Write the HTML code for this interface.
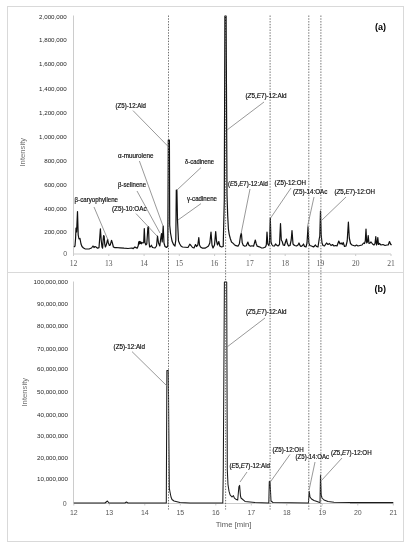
<!DOCTYPE html><html><head><meta charset="utf-8"><style>html,body{margin:0;padding:0;background:#fff;}svg{display:block;}</style></head><body>
<svg width="410" height="550" viewBox="0 0 410 550" font-family='"Liberation Sans", Arial, sans-serif'>
<rect x="0" y="0" width="410" height="550" fill="#fff"/>
<rect x="7.5" y="6.5" width="396" height="535" fill="none" stroke="#d9d9d9" stroke-width="1"/>
<line x1="7" y1="272.5" x2="404" y2="272.5" stroke="#d9d9d9" stroke-width="1"/>
<g stroke="#cccccc" stroke-width="1" fill="none">
<line x1="73.5" y1="15.5" x2="73.5" y2="254"/>
<line x1="73.5" y1="254" x2="391" y2="254"/>
<line x1="73.5" y1="281.5" x2="73.5" y2="503.5"/>
<line x1="73.5" y1="503.5" x2="393.3" y2="503.5"/>
<line x1="73.5" y1="254" x2="73.5" y2="256"/>
<line x1="73.8" y1="503.5" x2="73.8" y2="505.5"/>
<line x1="108.8" y1="254" x2="108.8" y2="256"/>
<line x1="109.3" y1="503.5" x2="109.3" y2="505.5"/>
<line x1="144.1" y1="254" x2="144.1" y2="256"/>
<line x1="144.8" y1="503.5" x2="144.8" y2="505.5"/>
<line x1="179.3" y1="254" x2="179.3" y2="256"/>
<line x1="180.3" y1="503.5" x2="180.3" y2="505.5"/>
<line x1="214.6" y1="254" x2="214.6" y2="256"/>
<line x1="215.8" y1="503.5" x2="215.8" y2="505.5"/>
<line x1="249.9" y1="254" x2="249.9" y2="256"/>
<line x1="251.3" y1="503.5" x2="251.3" y2="505.5"/>
<line x1="285.2" y1="254" x2="285.2" y2="256"/>
<line x1="286.8" y1="503.5" x2="286.8" y2="505.5"/>
<line x1="320.4" y1="254" x2="320.4" y2="256"/>
<line x1="322.3" y1="503.5" x2="322.3" y2="505.5"/>
<line x1="355.7" y1="254" x2="355.7" y2="256"/>
<line x1="357.8" y1="503.5" x2="357.8" y2="505.5"/>
<line x1="391.0" y1="254" x2="391.0" y2="256"/>
<line x1="393.3" y1="503.5" x2="393.3" y2="505.5"/>
</g>
<g font-size="6.2" fill="#1f1f1f" text-anchor="end">
<text x="66.6" y="18.6">2,000,000</text>
<text x="66.6" y="42.3">1,800,000</text>
<text x="66.6" y="66.3">1,600,000</text>
<text x="66.6" y="90.9">1,400,000</text>
<text x="66.6" y="115.1">1,200,000</text>
<text x="66.6" y="139.3">1,000,000</text>
<text x="66.6" y="163.1">800,000</text>
<text x="66.6" y="186.9">600,000</text>
<text x="66.6" y="210.6">400,000</text>
<text x="66.6" y="233.9">200,000</text>
<text x="68" y="284.4">100,000,000</text>
<text x="68" y="306.1">90,000,000</text>
<text x="68" y="327.8">80,000,000</text>
<text x="68" y="350.5">70,000,000</text>
<text x="68" y="371.2">60,000,000</text>
<text x="68" y="394.1">50,000,000</text>
<text x="68" y="416.6">40,000,000</text>
<text x="68" y="438.1">30,000,000</text>
<text x="68" y="460.1">20,000,000</text>
<text x="68" y="481.4">10,000,000</text>
</g>
<g font-size="7" fill="#595959" text-anchor="middle">
<text x="73.5" y="265.9" font-family="Liberation Serif, serif" font-size="7.6">12</text>
<text x="73.8" y="515.0">12</text>
<text x="108.8" y="265.9" font-family="Liberation Serif, serif" font-size="7.6">13</text>
<text x="109.3" y="515.0">13</text>
<text x="144.1" y="265.9" font-family="Liberation Serif, serif" font-size="7.6">14</text>
<text x="144.8" y="515.0">14</text>
<text x="179.3" y="265.9" font-family="Liberation Serif, serif" font-size="7.6">15</text>
<text x="180.3" y="515.0">15</text>
<text x="214.6" y="265.9" font-family="Liberation Serif, serif" font-size="7.6">16</text>
<text x="215.8" y="515.0">16</text>
<text x="249.9" y="265.9" font-family="Liberation Serif, serif" font-size="7.6">17</text>
<text x="251.3" y="515.0">17</text>
<text x="285.2" y="265.9" font-family="Liberation Serif, serif" font-size="7.6">18</text>
<text x="286.8" y="515.0">18</text>
<text x="320.4" y="265.9" font-family="Liberation Serif, serif" font-size="7.6">19</text>
<text x="322.3" y="515.0">19</text>
<text x="355.7" y="265.9" font-family="Liberation Serif, serif" font-size="7.6">20</text>
<text x="357.8" y="515.0">20</text>
<text x="391.0" y="265.9" font-family="Liberation Serif, serif" font-size="7.6">21</text>
<text x="393.3" y="515.0">21</text>
</g>
<text x="65.2" y="256.1" font-size="7" fill="#595959" text-anchor="middle">0</text>
<text x="64.8" y="506.0" font-size="7" fill="#595959" text-anchor="middle">0</text>
<text x="233.5" y="527.3" font-size="7.7" fill="#595959" text-anchor="middle">Time [min]</text>
<text transform="translate(25.2,152.2) rotate(-90)" font-size="7.7" fill="#737373" text-anchor="middle">Intensity</text>
<text transform="translate(26.7,392.2) rotate(-90)" font-size="7.7" fill="#737373" text-anchor="middle">Intensity</text>
<text x="375" y="29.6" font-size="9" font-weight="bold" fill="#000">(a)</text>
<text x="374.5" y="292.2" font-size="9" font-weight="bold" fill="#000">(b)</text>
<path d="M74.0,247.0 L75.0,246.0 L75.6,238.0 L76.0,228.0 L76.6,232.0 L77.5,211.5 L78.2,235.0 L79.0,239.0 L80.0,238.5 L81.0,244.0 L82.0,246.5 L83.5,248.0 L85.0,248.8 L87.0,249.0 L89.5,248.8 L91.5,248.0 L93.0,246.0 L94.0,247.5 L95.0,246.5 L96.0,247.0 L97.6,248.2 L99.0,247.6 L99.7,238.3 L100.4,228.8 L101.2,240.0 L102.0,247.0 L102.6,248.2 L103.2,239.4 L103.6,235.6 L104.2,236.2 L104.7,243.8 L105.4,247.0 L106.1,245.4 L106.6,243.8 L107.6,239.4 L108.3,242.7 L109.4,245.4 L110.3,244.9 L111.5,240.3 L112.3,242.7 L113.4,247.0 L114.8,247.6 L116.0,247.5 L120.0,247.8 L124.0,248.2 L128.0,248.5 L132.0,248.0 L133.2,248.6 L134.8,247.0 L136.0,247.6 L137.2,248.2 L138.2,245.8 L138.7,242.0 L139.1,241.5 L139.5,244.0 L139.9,241.5 L140.3,243.5 L140.7,241.8 L141.3,243.9 L141.9,242.4 L142.8,243.0 L143.7,242.7 L144.3,228.5 L145.0,242.7 L145.9,244.9 L146.8,243.9 L147.9,227.3 L148.5,226.6 L149.0,241.5 L149.6,247.0 L150.5,246.7 L151.4,245.2 L151.5,245.5 L152.5,247.5 L155.0,248.0 L156.5,246.0 L157.5,236.0 L158.5,243.0 L159.8,246.0 L160.8,238.0 L161.5,233.5 L162.2,242.0 L163.2,226.0 L164.0,243.0 L165.0,246.5 L166.5,247.5 L167.8,246.0 L168.3,140.0 L169.4,140.0 L169.7,225.0 L170.5,233.0 L172.0,241.0 L173.5,244.5 L175.0,246.0 L175.8,240.0 L176.3,190.0 L176.9,190.5 L177.5,220.0 L178.5,241.0 L179.8,244.0 L181.0,246.0 L182.5,247.0 L188.0,247.5 L189.8,244.2 L191.0,245.5 L192.5,247.5 L194.0,248.0 L195.5,244.5 L196.5,246.5 L197.8,245.0 L198.8,237.5 L199.5,245.0 L200.5,247.0 L202.5,248.2 L205.0,248.2 L207.0,247.0 L208.5,246.0 L209.8,243.0 L211.0,232.0 L212.0,245.0 L213.0,248.0 L214.5,245.0 L215.7,231.5 L216.5,241.0 L217.5,245.0 L218.8,241.5 L219.8,246.0 L221.5,247.0 L223.2,246.5 L224.3,200.0 L224.9,16.0 L226.1,16.0 L227.0,195.0 L227.7,215.7 L228.4,229.0 L229.2,234.3 L230.3,238.5 L231.5,242.0 L232.9,243.1 L234.4,244.7 L236.0,245.7 L238.0,246.2 L239.4,243.7 L240.6,235.4 L241.4,233.3 L242.2,242.6 L243.2,245.2 L244.8,246.2 L246.3,245.7 L247.9,242.1 L248.9,245.2 L250.5,246.2 L252.0,245.7 L253.6,246.2 L255.3,240.0 L256.2,243.7 L257.2,246.2 L259.3,246.8 L261.3,247.8 L263.0,248.0 L265.5,247.0 L266.3,245.0 L267.0,232.0 L267.8,244.0 L268.8,245.5 L269.5,243.0 L270.3,218.0 L271.0,242.0 L271.8,244.5 L273.0,246.0 L274.5,246.0 L275.5,244.0 L276.5,245.0 L278.0,246.0 L279.5,244.5 L280.5,223.5 L281.3,240.0 L282.2,241.5 L283.2,245.0 L284.5,245.5 L285.5,242.0 L286.5,239.0 L287.2,243.0 L288.5,246.0 L290.0,245.5 L291.2,240.0 L292.0,230.5 L293.0,244.0 L294.5,245.5 L296.5,246.0 L298.0,245.0 L299.0,243.0 L300.0,245.5 L301.0,246.5 L302.5,245.5 L303.5,244.0 L304.5,246.5 L306.0,247.0 L307.0,243.0 L308.0,227.0 L308.8,243.0 L309.8,245.5 L311.5,246.0 L313.5,247.0 L315.5,245.0 L316.5,246.5 L318.0,247.0 L319.2,239.0 L319.8,236.0 L320.5,211.0 L321.2,235.0 L322.0,243.0 L323.0,245.5 L324.5,246.0 L326.5,243.0 L328.0,244.5 L329.5,243.5 L331.0,245.5 L332.5,244.5 L334.0,246.0 L335.5,245.5 L337.0,246.0 L338.8,241.0 L340.0,244.0 L341.2,243.0 L342.2,244.5 L343.2,242.5 L344.5,246.5 L346.0,246.0 L347.2,241.0 L348.4,222.0 L349.3,238.0 L350.5,243.5 L352.0,245.0 L353.5,245.5 L355.0,246.0 L356.5,245.0 L358.0,246.0 L360.0,245.5 L362.0,245.0 L363.5,243.0 L364.5,243.5 L365.3,241.0 L366.0,229.0 L366.7,243.0 L367.5,242.0 L368.2,235.5 L369.0,243.5 L370.0,243.0 L371.0,242.0 L372.5,244.0 L374.0,245.0 L375.0,243.5 L375.8,236.5 L376.5,245.0 L377.2,243.0 L377.8,237.5 L378.5,244.5 L379.5,243.5 L381.0,245.0 L383.0,244.5 L385.0,245.5 L387.0,245.0 L388.2,245.0 L389.5,241.5 L390.5,244.0 L391.5,245.2" fill="none" stroke="#111" stroke-width="1.2" stroke-linejoin="round"/>
<path d="M73.8,503.0 L105.0,503.0 L107.4,501.0 L109.0,503.0 L125.0,503.0 L126.4,502.0 L128.0,503.0 L166.3,503.0 L166.9,370.4 L168.3,370.4 L169.3,488.0 L170.0,492.0 L171.0,497.0 L172.0,499.5 L174.0,501.0 L178.0,502.0 L180.0,502.5 L190.0,503.0 L222.8,503.0 L223.3,470.0 L224.4,282.0 L226.7,282.0 L227.3,470.0 L228.0,484.6 L229.0,491.2 L230.1,494.9 L232.0,497.0 L233.4,495.6 L234.5,498.2 L236.3,499.6 L237.7,500.0 L238.9,486.8 L239.6,485.4 L240.5,496.0 L241.0,498.0 L245.0,501.4 L255.0,502.6 L268.8,503.0 L269.3,481.6 L270.0,481.6 L271.0,501.0 L273.0,502.5 L308.4,503.0 L309.2,491.2 L310.0,497.0 L311.5,499.0 L314.0,500.5 L317.0,501.5 L319.0,502.2 L320.0,502.4 L320.5,475.0 L321.2,495.0 L322.0,498.0 L324.0,500.0 L328.0,501.5 L334.0,502.2 L350.0,502.6 L393.3,502.6" fill="none" stroke="#1a1a1a" stroke-width="1.05" stroke-linejoin="round"/>
<g stroke="#6e6e6e" stroke-width="1" stroke-dasharray="1.4 1.4" fill="none">
<line x1="168.5" y1="15.5" x2="168.5" y2="509.5"/>
<line x1="225.6" y1="15.5" x2="225.6" y2="509.5"/>
<line x1="270.1" y1="15.5" x2="270.1" y2="509.5"/>
<line x1="308.8" y1="15.5" x2="308.8" y2="509.5"/>
<line x1="320.9" y1="15.5" x2="320.9" y2="509.5"/>
</g>
<g stroke="#7f7f7f" stroke-width="0.8" fill="none">
<line x1="133" y1="110.6" x2="168.2" y2="146.5"/>
<line x1="139.4" y1="161" x2="163" y2="226"/>
<line x1="137" y1="191" x2="160" y2="233"/>
<line x1="136" y1="213.6" x2="157" y2="236"/>
<line x1="94" y1="207" x2="108" y2="240"/>
<line x1="201" y1="167.6" x2="177" y2="190"/>
<line x1="201" y1="203.6" x2="178" y2="220"/>
<line x1="264" y1="102" x2="227" y2="130"/>
<line x1="250" y1="189" x2="241" y2="234"/>
<line x1="291" y1="188" x2="270.6" y2="218"/>
<line x1="314" y1="197" x2="307.4" y2="227"/>
<line x1="346" y1="197" x2="322" y2="220"/>
<line x1="132" y1="351.6" x2="167" y2="386"/>
<line x1="265" y1="318" x2="227" y2="347"/>
<line x1="247" y1="472" x2="240" y2="482"/>
<line x1="290" y1="454.4" x2="270" y2="482.4"/>
<line x1="315" y1="462" x2="309.2" y2="489.5"/>
<line x1="342" y1="458" x2="321.5" y2="480.5"/>
</g>
<g font-size="6.4" fill="#111" stroke="#111" stroke-width="0.18">
<text x="115.6" y="108.3" textLength="30.4" lengthAdjust="spacingAndGlyphs">(Z5)-12:Ald</text>
<text x="118" y="158.3" textLength="35.4" lengthAdjust="spacingAndGlyphs">α-muurolene</text>
<text x="118" y="187.3" textLength="28.0" lengthAdjust="spacingAndGlyphs">β-selinene</text>
<text x="112" y="210.7" textLength="34.6" lengthAdjust="spacingAndGlyphs">(Z5)-10:OAc</text>
<text x="74.6" y="202.3" textLength="43.4" lengthAdjust="spacingAndGlyphs">β-caryophyllene</text>
<text x="185" y="163.7" textLength="29.0" lengthAdjust="spacingAndGlyphs">δ-cadinene</text>
<text x="187" y="200.9" textLength="30.0" lengthAdjust="spacingAndGlyphs">γ-cadinene</text>
<text x="245.4" y="98.3" textLength="41.2" lengthAdjust="spacingAndGlyphs">(<tspan font-style="italic">Z</tspan>5,<tspan font-style="italic">E</tspan>7)-12:Ald</text>
<text x="228" y="185.9" textLength="40.0" lengthAdjust="spacingAndGlyphs">(<tspan font-style="italic">E</tspan>5,<tspan font-style="italic">E</tspan>7)-12:Ald</text>
<text x="274.6" y="185.3" textLength="31.4" lengthAdjust="spacingAndGlyphs">(Z5)-12:OH</text>
<text x="293" y="193.9" textLength="34.4" lengthAdjust="spacingAndGlyphs">(Z5)-14:OAc</text>
<text x="334.4" y="193.7" textLength="40.6" lengthAdjust="spacingAndGlyphs">(<tspan font-style="italic">Z</tspan>5,<tspan font-style="italic">E</tspan>7)-12:OH</text>
<text x="113.6" y="348.9" textLength="31.4" lengthAdjust="spacingAndGlyphs">(Z5)-12:Ald</text>
<text x="246" y="314.3" textLength="40.6" lengthAdjust="spacingAndGlyphs">(<tspan font-style="italic">Z</tspan>5,<tspan font-style="italic">E</tspan>7)-12:Ald</text>
<text x="229.4" y="467.7" textLength="40.6" lengthAdjust="spacingAndGlyphs">(<tspan font-style="italic">E</tspan>5,<tspan font-style="italic">E</tspan>7)-12:Ald</text>
<text x="272.4" y="451.9" textLength="31.2" lengthAdjust="spacingAndGlyphs">(Z5)-12:OH</text>
<text x="295.6" y="458.9" textLength="33.4" lengthAdjust="spacingAndGlyphs">(Z5)-14:OAc</text>
<text x="331" y="454.7" textLength="40.6" lengthAdjust="spacingAndGlyphs">(<tspan font-style="italic">Z</tspan>5,<tspan font-style="italic">E</tspan>7)-12:OH</text>
</g>
</svg></body></html>
